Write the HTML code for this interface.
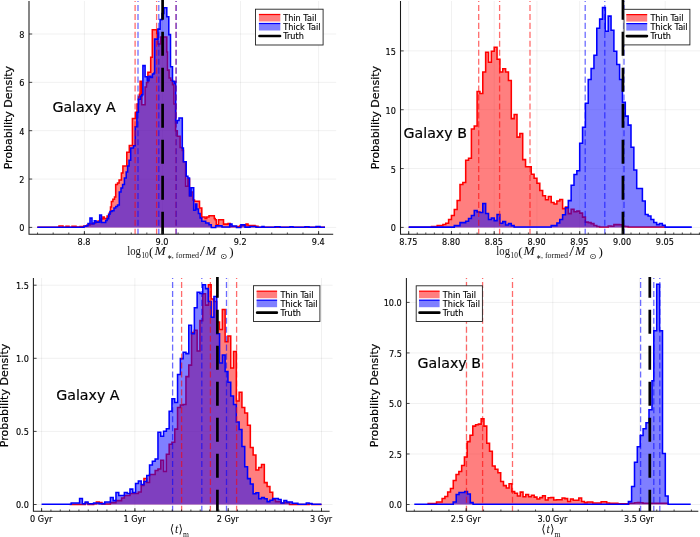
<!DOCTYPE html>
<html><head><meta charset="utf-8"><title>Posterior histograms</title>
<style>
html,body{margin:0;padding:0;background:#fff;}
body{width:700px;height:537px;overflow:hidden;}
svg{display:block;}
.tk{font-family:"DejaVu Sans", "Liberation Sans", sans-serif;font-size:8.15px;fill:#000;stroke:#000;stroke-width:0.12px;}
.lg{font-family:"DejaVu Sans", "Liberation Sans", sans-serif;font-size:8.15px;fill:#000;stroke:#000;stroke-width:0.12px;}
.gd{font-family:"DejaVu Sans", "Liberation Sans", sans-serif;font-size:11px;fill:#000;stroke:#000;stroke-width:0.2px;}
.an{font-family:"DejaVu Sans", "Liberation Sans", sans-serif;font-size:14.2px;fill:#000;stroke:#000;stroke-width:0.2px;}
.mt{font-family:"Liberation Serif", "DejaVu Serif", serif;fill:#111;}
.ms{font-family:"DejaVu Sans", "Liberation Sans", sans-serif;fill:#111;}
</style></head><body>
<svg width="700" height="537" viewBox="0 0 700 537">
<rect width="700" height="537" fill="#fff"/>
<defs>
<clipPath id="c1"><rect x="29" y="0" width="307.2" height="234.2"/></clipPath>
<clipPath id="c2"><rect x="400.5" y="0" width="302.5" height="234.2"/></clipPath>
<clipPath id="c3"><rect x="33.4" y="277" width="299.2" height="234.2"/></clipPath>
<clipPath id="c4"><rect x="406.4" y="277" width="294.9" height="234.2"/></clipPath>
</defs>
<line x1="84.4" y1="1" x2="84.4" y2="234.2" stroke="#000" stroke-opacity="0.1" stroke-width="0.6"/>
<line x1="162.47" y1="1" x2="162.47" y2="234.2" stroke="#000" stroke-opacity="0.1" stroke-width="0.6"/>
<line x1="240.53" y1="1" x2="240.53" y2="234.2" stroke="#000" stroke-opacity="0.1" stroke-width="0.6"/>
<line x1="318.6" y1="1" x2="318.6" y2="234.2" stroke="#000" stroke-opacity="0.1" stroke-width="0.6"/>
<line x1="29" y1="227.4" x2="336.2" y2="227.4" stroke="#000" stroke-opacity="0.1" stroke-width="0.6"/>
<line x1="29" y1="179.05" x2="336.2" y2="179.05" stroke="#000" stroke-opacity="0.1" stroke-width="0.6"/>
<line x1="29" y1="130.7" x2="336.2" y2="130.7" stroke="#000" stroke-opacity="0.1" stroke-width="0.6"/>
<line x1="29" y1="82.35" x2="336.2" y2="82.35" stroke="#000" stroke-opacity="0.1" stroke-width="0.6"/>
<line x1="29" y1="34" x2="336.2" y2="34" stroke="#000" stroke-opacity="0.1" stroke-width="0.6"/>
<g clip-path="url(#c1)"><path d="M37.3 227.4V227.2H59V226H63V227.2H66V226.3H69V227.2H72V226.3H76V227H80V226.5H84V226H87V225H90V224H93V223H95.7V222H98V221H100V219H102.9V217H104.3V218.6H107.1V216H109.3V212.9H110.5V207H111.4V201.4H112.9V199.3H114.5V197H115.7V184.5H117.5V183H119.1V179.9H121.4V172.9H122.9V165.9H126.8V152.2H129.3V145.5H132.4V118.4H135.5V112.3H137V104H138.5V97H139.4V94.3H140.1V81.3H141.8V104.7H145.1V86.9H146.5V82.4H147.9V72.3H150.7V57.3H152.3V29.7H156.8V33.5H157.9V44H160.7V36.9H166.8V52H167.5V70.1H169.1V77.9H170.8V80.2H172.5V84.6H173.9V103.9H175.6V130.8H177.3V136.3H180.1V147.5H182.3V150.5H183.4V161.7H185.6V186.3H187.9V179H189.5V196H191.1V192H193V200H194.5V201.2H199.5V207.9H201.8V216.9H205.1V218.5H206.8V216.9H209V215.8H214.3V218.5H215.2V219.7H216.3V224.7H218.5V219.7H223.5V224.1H228V223.4H230.3V226.4H240V225.5H246V224H248V225.5H255V226.3H258V227.2H325V227.4Z" fill="#ff0000" fill-opacity="0.5"/><path d="M37.3 227.2H59V226H63V227.2H66V226.3H69V227.2H72V226.3H76V227H80V226.5H84V226H87V225H90V224H93V223H95.7V222H98V221H100V219H102.9V217H104.3V218.6H107.1V216H109.3V212.9H110.5V207H111.4V201.4H112.9V199.3H114.5V197H115.7V184.5H117.5V183H119.1V179.9H121.4V172.9H122.9V165.9H126.8V152.2H129.3V145.5H132.4V118.4H135.5V112.3H137V104H138.5V97H139.4V94.3H140.1V81.3H141.8V104.7H145.1V86.9H146.5V82.4H147.9V72.3H150.7V57.3H152.3V29.7H156.8V33.5H157.9V44H160.7V36.9H166.8V52H167.5V70.1H169.1V77.9H170.8V80.2H172.5V84.6H173.9V103.9H175.6V130.8H177.3V136.3H180.1V147.5H182.3V150.5H183.4V161.7H185.6V186.3H187.9V179H189.5V196H191.1V192H193V200H194.5V201.2H199.5V207.9H201.8V216.9H205.1V218.5H206.8V216.9H209V215.8H214.3V218.5H215.2V219.7H216.3V224.7H218.5V219.7H223.5V224.1H228V223.4H230.3V226.4H240V225.5H246V224H248V225.5H255V226.3H258V227.2H325" fill="none" stroke="#ff0000" stroke-width="1.55" stroke-linejoin="miter"/></g>
<g clip-path="url(#c1)"><path d="M37.3 227.4V227.2H84V226.3H86V225.7H88V223.6H90V218.1H92V223.6H94.3V220.7H96V222.1H99.7V215H101.5V222.4H105.7V220.5H107.1V218.6H108.6V214.3H110V211.4H112V210.7H114V208H115.7V206.4H117.5V205H119.3V192H121V188H122.6V184.5H124.4V178H126.2V172H127.6V166H129.05V160.3H130.7V148H133.5V145.8H135.2V126.8H136.9V112.2H138.4V99.2H140.3V96H141.8V94.7H142.9V65.6H145.1V76.8H147.3V80.7H149V76.3H150.7V77.4H152.4V74H154V72.9H154.6V39.1H157.9V29.1H160.1V19.6H162V13.5H163.9V7.8H166.8V16.8H168.8V34.6H170.5V66.8H172.5V81.3H174.2V83.5H175.6V81.5H175.7V122.9H177.3V120.5H179V117.9H182.3V148.1H183.4V161.7H186.2V176.3H187.9V177.9H189.5V195.6H191.1V187.8H193.7V210.2H195.6V204H196.8V209H198.4V213.5H200.1V218H201.8V221.3H205.7V223H209V224.7H211.3V227.4H215.7V225.8H222V227H229.7V224.1H232V226H236.5V227.5H240.9V224.7H245V227.1H250V226.5H256V227.2H262V226.6H264V227.2H275V226.8H280V227.2H290V226.8H293V227.2H305V226.8H309V227.2H316V226.6H320V227.2H325V227.4Z" fill="#0000ff" fill-opacity="0.5"/><path d="M37.3 227.2H84V226.3H86V225.7H88V223.6H90V218.1H92V223.6H94.3V220.7H96V222.1H99.7V215H101.5V222.4H105.7V220.5H107.1V218.6H108.6V214.3H110V211.4H112V210.7H114V208H115.7V206.4H117.5V205H119.3V192H121V188H122.6V184.5H124.4V178H126.2V172H127.6V166H129.05V160.3H130.7V148H133.5V145.8H135.2V126.8H136.9V112.2H138.4V99.2H140.3V96H141.8V94.7H142.9V65.6H145.1V76.8H147.3V80.7H149V76.3H150.7V77.4H152.4V74H154V72.9H154.6V39.1H157.9V29.1H160.1V19.6H162V13.5H163.9V7.8H166.8V16.8H168.8V34.6H170.5V66.8H172.5V81.3H174.2V83.5H175.6V81.5H175.7V122.9H177.3V120.5H179V117.9H182.3V148.1H183.4V161.7H186.2V176.3H187.9V177.9H189.5V195.6H191.1V187.8H193.7V210.2H195.6V204H196.8V209H198.4V213.5H200.1V218H201.8V221.3H205.7V223H209V224.7H211.3V227.4H215.7V225.8H222V227H229.7V224.1H232V226H236.5V227.5H240.9V224.7H245V227.1H250V226.5H256V227.2H262V226.6H264V227.2H275V226.8H280V227.2H290V226.8H293V227.2H305V226.8H309V227.2H316V226.6H320V227.2H325" fill="none" stroke="#0000ff" stroke-width="1.55" stroke-linejoin="miter"/></g>
<g clip-path="url(#c1)">
<line x1="135.1" y1="234.8" x2="135.1" y2="1" stroke="#ff0000" stroke-opacity="0.58" stroke-width="1.3" stroke-dasharray="6.1 2.85"/>
<line x1="156.6" y1="234.8" x2="156.6" y2="1" stroke="#ff0000" stroke-opacity="0.58" stroke-width="1.3" stroke-dasharray="6.1 2.85"/>
<line x1="176" y1="234.8" x2="176" y2="1" stroke="#ff0000" stroke-opacity="0.58" stroke-width="1.3" stroke-dasharray="6.1 2.85"/>
<line x1="138" y1="234.8" x2="138" y2="1" stroke="#0000ff" stroke-opacity="0.58" stroke-width="1.3" stroke-dasharray="6.1 2.85"/>
<line x1="158.8" y1="234.8" x2="158.8" y2="1" stroke="#0000ff" stroke-opacity="0.58" stroke-width="1.3" stroke-dasharray="6.1 2.85"/>
<line x1="176.15" y1="234.8" x2="176.15" y2="1" stroke="#0000ff" stroke-opacity="0.58" stroke-width="1.3" stroke-dasharray="6.1 2.85"/>
<line x1="162.6" y1="235.7" x2="162.6" y2="0" stroke="#000" stroke-width="2.7" stroke-dasharray="24 12"/>
</g>
<path d="M29 1V234.2H333.2" fill="none" stroke="#1a1a1a" stroke-width="1.05"/>
<path d="M84.4 234.2v-3.2M162.47 234.2v-3.2M240.53 234.2v-3.2M318.6 234.2v-3.2M37.56 234.2v-1.7M53.17 234.2v-1.7M68.79 234.2v-1.7M84.4 234.2v-1.7M100.01 234.2v-1.7M115.62 234.2v-1.7M131.24 234.2v-1.7M146.85 234.2v-1.7M162.46 234.2v-1.7M178.08 234.2v-1.7M193.69 234.2v-1.7M209.3 234.2v-1.7M224.92 234.2v-1.7M240.53 234.2v-1.7M256.14 234.2v-1.7M271.75 234.2v-1.7M287.37 234.2v-1.7M302.98 234.2v-1.7M318.59 234.2v-1.7M29 227.4h3.2M29 179.05h3.2M29 130.7h3.2M29 82.35h3.2M29 34h3.2" fill="none" stroke="#1a1a1a" stroke-width="0.8"/>
<text x="84" y="244.9" text-anchor="middle" class="tk">8.8</text>
<text x="162.07" y="244.9" text-anchor="middle" class="tk">9.0</text>
<text x="240.13" y="244.9" text-anchor="middle" class="tk">9.2</text>
<text x="318.2" y="244.9" text-anchor="middle" class="tk">9.4</text>
<text x="24.4" y="231.35" text-anchor="end" class="tk">0</text>
<text x="24.4" y="183" text-anchor="end" class="tk">2</text>
<text x="24.4" y="134.65" text-anchor="end" class="tk">4</text>
<text x="24.4" y="86.3" text-anchor="end" class="tk">6</text>
<text x="24.4" y="37.95" text-anchor="end" class="tk">8</text>
<text transform="translate(11.8 117.6) rotate(-90)" text-anchor="middle" class="gd">Probability Density</text>
<rect x="255.5" y="9.2" width="67.6" height="35.8" fill="#fff" stroke="#222" stroke-width="0.9"/>
<rect x="258.9" y="14.5" width="21.4" height="7.0" fill="#ff0000" fill-opacity="0.5"/>
<line x1="258.9" y1="14.5" x2="280.3" y2="14.5" stroke="#ff0000" stroke-width="1.25"/>
<rect x="258.9" y="23.5" width="21.4" height="7.0" fill="#0000ff" fill-opacity="0.5"/>
<line x1="258.9" y1="23.5" x2="280.3" y2="23.5" stroke="#0000ff" stroke-width="1.25"/>
<line x1="259.5" y1="36" x2="280" y2="36" stroke="#000" stroke-width="2.7" stroke-linecap="round"/>
<text x="283.2" y="20.8" class="lg">Thin Tail</text>
<text x="283.2" y="29.7" class="lg">Thick Tail</text>
<text x="283.2" y="38.7" class="lg">Truth</text>
<text x="52.4" y="111.5" class="an">Galaxy A</text>
<line x1="408.7" y1="1" x2="408.7" y2="234.2" stroke="#000" stroke-opacity="0.1" stroke-width="0.6"/>
<line x1="451.45" y1="1" x2="451.45" y2="234.2" stroke="#000" stroke-opacity="0.1" stroke-width="0.6"/>
<line x1="494.2" y1="1" x2="494.2" y2="234.2" stroke="#000" stroke-opacity="0.1" stroke-width="0.6"/>
<line x1="536.95" y1="1" x2="536.95" y2="234.2" stroke="#000" stroke-opacity="0.1" stroke-width="0.6"/>
<line x1="579.7" y1="1" x2="579.7" y2="234.2" stroke="#000" stroke-opacity="0.1" stroke-width="0.6"/>
<line x1="622.45" y1="1" x2="622.45" y2="234.2" stroke="#000" stroke-opacity="0.1" stroke-width="0.6"/>
<line x1="665.2" y1="1" x2="665.2" y2="234.2" stroke="#000" stroke-opacity="0.1" stroke-width="0.6"/>
<line x1="400.5" y1="227.4" x2="703" y2="227.4" stroke="#000" stroke-opacity="0.1" stroke-width="0.6"/>
<line x1="400.5" y1="168.57" x2="703" y2="168.57" stroke="#000" stroke-opacity="0.1" stroke-width="0.6"/>
<line x1="400.5" y1="109.73" x2="703" y2="109.73" stroke="#000" stroke-opacity="0.1" stroke-width="0.6"/>
<line x1="400.5" y1="50.9" x2="703" y2="50.9" stroke="#000" stroke-opacity="0.1" stroke-width="0.6"/>
<g clip-path="url(#c2)"><path d="M408.7 227.4V227.2H411.55H414.4H417.25H420.1H422.95H425.8H428.65H431.5V226.6H434.35H437.2V225.6H440.05H442.9V224.4H445.75V223.2H448.6V219.5H451.45V215.5H454.3V209.5H457.15V200.4H460V184.5H462.85V182.5H465.7V160.2H468.55V158.2H471.4V129H474.25V126H477.1V91.4H479.95V93.4H482.8V71.9H485.65V52.2H488.5V62.2H491.35V51.2H494.2V47.2H497.05V59.2H499.9V71.9H502.75V68.7H505.6V71.9H508.45V80.4H511.3V118.6H514.15V114.5H517V137.1H519.85V133.4H522.7V159.6H525.55V166.8H528.4H531.25V174.3H534.1V178.3H536.95V183.3H539.8V190.4H542.65V195.8H545.5V199.8H548.35V196.4H551.2V202.4H554.05V203.9H556.9V201H559.75V199.4H562.6V208.6H565.45V207.1H568.3V213.6H571.15V209.3H574V211.7H576.85V211.1H579.7V213.1H582.55V217.1H585.4V222.1H588.25V222.6H591.1V223.6H593.95V225.4H596.8V226.4H599.65V226.9H602.5H605.35H608.2V226H611.05V226.2H613.9V224.6H616.75H619.6V224.8H622.45V226.3H625.3V226.4H628.15V226.9H631H633.85H636.7H639.55H642.4H645.25H648.1H650.95H653.8H656.65H659.5H662.35H665.2V227.4Z" fill="#ff0000" fill-opacity="0.5"/><path d="M408.7 227.2H411.55H414.4H417.25H420.1H422.95H425.8H428.65H431.5V226.6H434.35H437.2V225.6H440.05H442.9V224.4H445.75V223.2H448.6V219.5H451.45V215.5H454.3V209.5H457.15V200.4H460V184.5H462.85V182.5H465.7V160.2H468.55V158.2H471.4V129H474.25V126H477.1V91.4H479.95V93.4H482.8V71.9H485.65V52.2H488.5V62.2H491.35V51.2H494.2V47.2H497.05V59.2H499.9V71.9H502.75V68.7H505.6V71.9H508.45V80.4H511.3V118.6H514.15V114.5H517V137.1H519.85V133.4H522.7V159.6H525.55V166.8H528.4H531.25V174.3H534.1V178.3H536.95V183.3H539.8V190.4H542.65V195.8H545.5V199.8H548.35V196.4H551.2V202.4H554.05V203.9H556.9V201H559.75V199.4H562.6V208.6H565.45V207.1H568.3V213.6H571.15V209.3H574V211.7H576.85V211.1H579.7V213.1H582.55V217.1H585.4V222.1H588.25V222.6H591.1V223.6H593.95V225.4H596.8V226.4H599.65V226.9H602.5H605.35H608.2V226H611.05V226.2H613.9V224.6H616.75H619.6V224.8H622.45V226.3H625.3V226.4H628.15V226.9H631H633.85H636.7H639.55H642.4H645.25H648.1H650.95H653.8H656.65H659.5H662.35H665.2" fill="none" stroke="#ff0000" stroke-width="1.55" stroke-linejoin="miter"/></g>
<g clip-path="url(#c2)"><path d="M408.7 227.4V227.1H411.55H414.4H417.25H420.1H422.95H425.8H428.65H431.5H434.35H437.2H440.05H442.9H445.75H448.6H451.45H454.3V225.6H457.15H460V222.6H462.85H465.7V221.2H468.55V218.5H471.4V215.5H474.25V210.5H477.1V211.9H479.95V212.5H482.8V203.5H485.65V213.5H488.5V219.5H491.35V217.9H494.2V220.6H497.05V214.5H499.9V223.2H502.75V221.6H505.6V225H508.45V223.6H511.3V225.6H514.15V226.9H517H519.85H522.7H525.55H528.4H531.25H534.1H536.95H539.8H542.65H545.5H548.35H551.2V225.6H554.05H556.9V223H559.75V219.4H562.6V214.8H565.45V207.7H568.3V200.6H571.15V185.3H574V174.4H576.85V170.8H579.7V143.3H582.55V127.2H585.4V103.3H588.25V79.5H591.1V68.4H593.95V55.3H596.8V28.2H599.65V19.1H602.5V7.6H605.35V31.2H608.2V16.1H611.05V30.2H613.9V51.3H616.75V64.4H619.6V79.5H622.45V102.3H625.3V116.1H628.15V125.1H631V147.3H633.85V170H636.7V188.5H639.55H642.4V201H645.25V214.5H648.1V216H650.95V219.5H653.8V222.4H656.65V224.6H659.5V223.4H662.35V225.3H665.2V227.1H668.05H670.9H673.75H676.6H679.45H682.3H685.15H688H690.85H691.8V227.4Z" fill="#0000ff" fill-opacity="0.5"/><path d="M408.7 227.1H411.55H414.4H417.25H420.1H422.95H425.8H428.65H431.5H434.35H437.2H440.05H442.9H445.75H448.6H451.45H454.3V225.6H457.15H460V222.6H462.85H465.7V221.2H468.55V218.5H471.4V215.5H474.25V210.5H477.1V211.9H479.95V212.5H482.8V203.5H485.65V213.5H488.5V219.5H491.35V217.9H494.2V220.6H497.05V214.5H499.9V223.2H502.75V221.6H505.6V225H508.45V223.6H511.3V225.6H514.15V226.9H517H519.85H522.7H525.55H528.4H531.25H534.1H536.95H539.8H542.65H545.5H548.35H551.2V225.6H554.05H556.9V223H559.75V219.4H562.6V214.8H565.45V207.7H568.3V200.6H571.15V185.3H574V174.4H576.85V170.8H579.7V143.3H582.55V127.2H585.4V103.3H588.25V79.5H591.1V68.4H593.95V55.3H596.8V28.2H599.65V19.1H602.5V7.6H605.35V31.2H608.2V16.1H611.05V30.2H613.9V51.3H616.75V64.4H619.6V79.5H622.45V102.3H625.3V116.1H628.15V125.1H631V147.3H633.85V170H636.7V188.5H639.55H642.4V201H645.25V214.5H648.1V216H650.95V219.5H653.8V222.4H656.65V224.6H659.5V223.4H662.35V225.3H665.2V227.1H668.05H670.9H673.75H676.6H679.45H682.3H685.15H688H690.85H691.8" fill="none" stroke="#0000ff" stroke-width="1.55" stroke-linejoin="miter"/></g>
<g clip-path="url(#c2)">
<line x1="478.7" y1="234.8" x2="478.7" y2="1" stroke="#ff0000" stroke-opacity="0.58" stroke-width="1.3" stroke-dasharray="6.1 2.85"/>
<line x1="499.6" y1="234.8" x2="499.6" y2="1" stroke="#ff0000" stroke-opacity="0.58" stroke-width="1.3" stroke-dasharray="6.1 2.85"/>
<line x1="530" y1="234.8" x2="530" y2="1" stroke="#ff0000" stroke-opacity="0.58" stroke-width="1.3" stroke-dasharray="6.1 2.85"/>
<line x1="585.2" y1="234.8" x2="585.2" y2="1" stroke="#0000ff" stroke-opacity="0.58" stroke-width="1.3" stroke-dasharray="6.1 2.85"/>
<line x1="604.8" y1="234.8" x2="604.8" y2="1" stroke="#0000ff" stroke-opacity="0.58" stroke-width="1.3" stroke-dasharray="6.1 2.85"/>
<line x1="624" y1="234.8" x2="624" y2="1" stroke="#0000ff" stroke-opacity="0.58" stroke-width="1.3" stroke-dasharray="6.1 2.85"/>
<line x1="622.95" y1="235.7" x2="622.95" y2="0" stroke="#000" stroke-width="2.7" stroke-dasharray="24 12"/>
</g>
<path d="M400.5 1V234.2H700" fill="none" stroke="#1a1a1a" stroke-width="1.05"/>
<path d="M408.7 234.2v-3.2M451.45 234.2v-3.2M494.2 234.2v-3.2M536.95 234.2v-3.2M579.7 234.2v-3.2M622.45 234.2v-3.2M665.2 234.2v-3.2M408.7 234.2v-1.7M417.25 234.2v-1.7M425.8 234.2v-1.7M434.35 234.2v-1.7M442.9 234.2v-1.7M451.45 234.2v-1.7M460 234.2v-1.7M468.55 234.2v-1.7M477.1 234.2v-1.7M485.65 234.2v-1.7M494.2 234.2v-1.7M502.75 234.2v-1.7M511.3 234.2v-1.7M519.85 234.2v-1.7M528.4 234.2v-1.7M536.95 234.2v-1.7M545.5 234.2v-1.7M554.05 234.2v-1.7M562.6 234.2v-1.7M571.15 234.2v-1.7M579.7 234.2v-1.7M588.25 234.2v-1.7M596.8 234.2v-1.7M605.35 234.2v-1.7M613.9 234.2v-1.7M622.45 234.2v-1.7M631 234.2v-1.7M639.55 234.2v-1.7M648.1 234.2v-1.7M656.65 234.2v-1.7M665.2 234.2v-1.7M673.75 234.2v-1.7M682.3 234.2v-1.7M690.85 234.2v-1.7M699.4 234.2v-1.7M400.5 227.4h3.2M400.5 168.57h3.2M400.5 109.73h3.2M400.5 50.9h3.2" fill="none" stroke="#1a1a1a" stroke-width="0.8"/>
<text x="408.3" y="244.9" text-anchor="middle" class="tk">8.75</text>
<text x="451.05" y="244.9" text-anchor="middle" class="tk">8.80</text>
<text x="493.8" y="244.9" text-anchor="middle" class="tk">8.85</text>
<text x="536.55" y="244.9" text-anchor="middle" class="tk">8.90</text>
<text x="579.3" y="244.9" text-anchor="middle" class="tk">8.95</text>
<text x="622.05" y="244.9" text-anchor="middle" class="tk">9.00</text>
<text x="664.8" y="244.9" text-anchor="middle" class="tk">9.05</text>
<text x="395.9" y="231.35" text-anchor="end" class="tk">0</text>
<text x="395.9" y="172.52" text-anchor="end" class="tk">5</text>
<text x="395.9" y="113.68" text-anchor="end" class="tk">10</text>
<text x="395.9" y="54.85" text-anchor="end" class="tk">15</text>
<text transform="translate(379.2 117.6) rotate(-90)" text-anchor="middle" class="gd">Probability Density</text>
<rect x="624" y="9.3" width="65.9" height="35.6" fill="#fff" stroke="#222" stroke-width="0.9"/>
<rect x="626.3" y="14.6" width="20.9" height="7.0" fill="#ff0000" fill-opacity="0.5"/>
<line x1="626.3" y1="14.6" x2="647.2" y2="14.6" stroke="#ff0000" stroke-width="1.25"/>
<rect x="626.3" y="23.6" width="20.9" height="7.0" fill="#0000ff" fill-opacity="0.5"/>
<line x1="626.3" y1="23.6" x2="647.2" y2="23.6" stroke="#0000ff" stroke-width="1.25"/>
<line x1="626.9" y1="36.1" x2="646.9" y2="36.1" stroke="#000" stroke-width="2.7" stroke-linecap="round"/>
<text x="650.4" y="20.8" class="lg">Thin Tail</text>
<text x="650.4" y="29.7" class="lg">Thick Tail</text>
<text x="650.4" y="38.7" class="lg">Truth</text>
<text x="403.5" y="138.1" class="an">Galaxy B</text>
<line x1="41.6" y1="278" x2="41.6" y2="511.2" stroke="#000" stroke-opacity="0.1" stroke-width="0.6"/>
<line x1="134.9" y1="278" x2="134.9" y2="511.2" stroke="#000" stroke-opacity="0.1" stroke-width="0.6"/>
<line x1="228.2" y1="278" x2="228.2" y2="511.2" stroke="#000" stroke-opacity="0.1" stroke-width="0.6"/>
<line x1="321.5" y1="278" x2="321.5" y2="511.2" stroke="#000" stroke-opacity="0.1" stroke-width="0.6"/>
<line x1="33.4" y1="504.5" x2="332.6" y2="504.5" stroke="#000" stroke-opacity="0.1" stroke-width="0.6"/>
<line x1="33.4" y1="431.4" x2="332.6" y2="431.4" stroke="#000" stroke-opacity="0.1" stroke-width="0.6"/>
<line x1="33.4" y1="358.3" x2="332.6" y2="358.3" stroke="#000" stroke-opacity="0.1" stroke-width="0.6"/>
<line x1="33.4" y1="285.2" x2="332.6" y2="285.2" stroke="#000" stroke-opacity="0.1" stroke-width="0.6"/>
<g clip-path="url(#c3)"><path d="M69.6 504.5V504.4H71.19H73.99H76.79H79.59H82.39H85.19V502.8H87.98V504.4H90.78H93.58V503.8H96.38V501.9H99.18V502.6H101.98V504H104.78H107.58H110.38V502.6H113.17H115.97V500.6H118.77H121.57V497.9H124.37V495.5H127.17H129.97V493.5H132.77H135.57H138.37V491.9H141.17V485.5H143.96V478.4H146.76V482.5H149.56V474.4H152.36H155.16V470.4H157.96V469H160.76V460.3H163.56V471.4H166.36V454.3H169.16V444.2H171.95V442.2H174.75V429.1H177.55V407.5H180.35V405H183.15V404.5H185.95V376.6H188.75V365.1H191.55V332.4H194.35V330.2H197.14V351H199.94V320.6H202.74V293.7H205.54V305.1H208.34V284.8H211.14V299H213.94V301.5H216.74V322H219.54V329.4H222.34V309.4H225.13V341.7H227.93V336H230.73V368H233.53V351.5H236.33V401H239.13V392.3H241.93V407.4H244.73V413H247.53V425.3H250.33V447.4H253.12V454.9H255.92V469.9H258.72V467.5H261.52V464.4H264.32V482.6H267.12V486.5H269.92V492.3H272.72V499.5H275.52V501.6H278.32H281.12V503H283.91V502.6H286.71H289.51V504.4H292.31H295.11H297.91H300.71H303.51H306.31H309.1V503.8H311.9V504.4H314.7H317.5H320.3H321.5V504.5Z" fill="#ff0000" fill-opacity="0.5"/><path d="M69.6 504.4H71.19H73.99H76.79H79.59H82.39H85.19V502.8H87.98V504.4H90.78H93.58V503.8H96.38V501.9H99.18V502.6H101.98V504H104.78H107.58H110.38V502.6H113.17H115.97V500.6H118.77H121.57V497.9H124.37V495.5H127.17H129.97V493.5H132.77H135.57H138.37V491.9H141.17V485.5H143.96V478.4H146.76V482.5H149.56V474.4H152.36H155.16V470.4H157.96V469H160.76V460.3H163.56V471.4H166.36V454.3H169.16V444.2H171.95V442.2H174.75V429.1H177.55V407.5H180.35V405H183.15V404.5H185.95V376.6H188.75V365.1H191.55V332.4H194.35V330.2H197.14V351H199.94V320.6H202.74V293.7H205.54V305.1H208.34V284.8H211.14V299H213.94V301.5H216.74V322H219.54V329.4H222.34V309.4H225.13V341.7H227.93V336H230.73V368H233.53V351.5H236.33V401H239.13V392.3H241.93V407.4H244.73V413H247.53V425.3H250.33V447.4H253.12V454.9H255.92V469.9H258.72V467.5H261.52V464.4H264.32V482.6H267.12V486.5H269.92V492.3H272.72V499.5H275.52V501.6H278.32H281.12V503H283.91V502.6H286.71H289.51V504.4H292.31H295.11H297.91H300.71H303.51H306.31H309.1V503.8H311.9V504.4H314.7H317.5H320.3H321.5" fill="none" stroke="#ff0000" stroke-width="1.55" stroke-linejoin="miter"/></g>
<g clip-path="url(#c3)"><path d="M41.6 504.5V504.3H46H48.8H51.6H54.4H57.2H59.99H62.79H65.59H68.39H71.19V503H73.99H76.79H79.59V498.5H82.39V503.8H85.19V501.9H87.98V503.8H90.78H93.58V503H96.38H99.18V503.6H101.98H104.78V502H107.58H110.38V497.5H113.17V500.6H115.97V492.5H118.77V495.5H121.57H124.37V492.5H127.17V493.5H129.97V489.1H132.77V492.5H135.57V483.5H138.37V481H141.17V484.5H143.96V481.4H146.76V475.4H149.56V465H152.36V461.3H155.16V458.9H157.96V432.2H160.76V436.2H163.56V431.2H166.36V428.7H169.16V411.3H171.95V398.8H174.75V402.4H177.55V374.4H180.35V358.6H183.15V352.2H185.95V353.6H188.75V325.2H191.55V333.8H194.35V307.7H197.14V292.2H199.94V293.5H202.74V284.8H205.54V288.6H208.34V301.5H211.14V317.3H213.94V296.5H216.74V333.8H219.54V362.9H222.34V355H225.13V371.5H227.93V382.3H230.73V395.9H233.53V404.5H236.33V422H239.13V429.5H241.93V446.5H244.73V466.7H247.53V478.6H250.33V484H253.12V493.7H255.92V492.7H258.72V498.7H261.52V497.6H264.32V498.7H267.12V501.6H269.92V500.2H272.72V498.5H275.52H278.32V499.5H281.12V503H283.91V500.6H286.71V501.9H289.51H292.31V503.3H295.11H297.91V504.2H300.71H303.51H306.31V503H309.1V503.5H311.9V504.2H314.7H317.5H320.3H321.5V504.5Z" fill="#0000ff" fill-opacity="0.5"/><path d="M41.6 504.3H46H48.8H51.6H54.4H57.2H59.99H62.79H65.59H68.39H71.19V503H73.99H76.79H79.59V498.5H82.39V503.8H85.19V501.9H87.98V503.8H90.78H93.58V503H96.38H99.18V503.6H101.98H104.78V502H107.58H110.38V497.5H113.17V500.6H115.97V492.5H118.77V495.5H121.57H124.37V492.5H127.17V493.5H129.97V489.1H132.77V492.5H135.57V483.5H138.37V481H141.17V484.5H143.96V481.4H146.76V475.4H149.56V465H152.36V461.3H155.16V458.9H157.96V432.2H160.76V436.2H163.56V431.2H166.36V428.7H169.16V411.3H171.95V398.8H174.75V402.4H177.55V374.4H180.35V358.6H183.15V352.2H185.95V353.6H188.75V325.2H191.55V333.8H194.35V307.7H197.14V292.2H199.94V293.5H202.74V284.8H205.54V288.6H208.34V301.5H211.14V317.3H213.94V296.5H216.74V333.8H219.54V362.9H222.34V355H225.13V371.5H227.93V382.3H230.73V395.9H233.53V404.5H236.33V422H239.13V429.5H241.93V446.5H244.73V466.7H247.53V478.6H250.33V484H253.12V493.7H255.92V492.7H258.72V498.7H261.52V497.6H264.32V498.7H267.12V501.6H269.92V500.2H272.72V498.5H275.52H278.32V499.5H281.12V503H283.91V500.6H286.71V501.9H289.51H292.31V503.3H295.11H297.91V504.2H300.71H303.51H306.31V503H309.1V503.5H311.9V504.2H314.7H317.5H320.3H321.5" fill="none" stroke="#0000ff" stroke-width="1.55" stroke-linejoin="miter"/></g>
<g clip-path="url(#c3)">
<line x1="181.6" y1="511.8" x2="181.6" y2="278" stroke="#ff0000" stroke-opacity="0.58" stroke-width="1.3" stroke-dasharray="6.1 2.85"/>
<line x1="210.4" y1="511.8" x2="210.4" y2="278" stroke="#ff0000" stroke-opacity="0.58" stroke-width="1.3" stroke-dasharray="6.1 2.85"/>
<line x1="236.6" y1="511.8" x2="236.6" y2="278" stroke="#ff0000" stroke-opacity="0.58" stroke-width="1.3" stroke-dasharray="6.1 2.85"/>
<line x1="172.6" y1="511.8" x2="172.6" y2="278" stroke="#0000ff" stroke-opacity="0.58" stroke-width="1.3" stroke-dasharray="6.1 2.85"/>
<line x1="201.8" y1="511.8" x2="201.8" y2="278" stroke="#0000ff" stroke-opacity="0.58" stroke-width="1.3" stroke-dasharray="6.1 2.85"/>
<line x1="226.5" y1="511.8" x2="226.5" y2="278" stroke="#0000ff" stroke-opacity="0.58" stroke-width="1.3" stroke-dasharray="6.1 2.85"/>
<line x1="217.4" y1="513.7" x2="217.4" y2="277" stroke="#000" stroke-width="2.7" stroke-dasharray="24 12"/>
</g>
<path d="M33.4 278V511.2H329.6" fill="none" stroke="#1a1a1a" stroke-width="1.05"/>
<path d="M41.6 511.2v-3.2M134.9 511.2v-3.2M228.2 511.2v-3.2M321.5 511.2v-3.2M41.6 511.2v-1.7M50.93 511.2v-1.7M60.26 511.2v-1.7M69.59 511.2v-1.7M78.92 511.2v-1.7M88.25 511.2v-1.7M97.58 511.2v-1.7M106.91 511.2v-1.7M116.24 511.2v-1.7M125.57 511.2v-1.7M134.9 511.2v-1.7M144.23 511.2v-1.7M153.56 511.2v-1.7M162.89 511.2v-1.7M172.22 511.2v-1.7M181.55 511.2v-1.7M190.88 511.2v-1.7M200.21 511.2v-1.7M209.54 511.2v-1.7M218.87 511.2v-1.7M228.2 511.2v-1.7M237.53 511.2v-1.7M246.86 511.2v-1.7M256.19 511.2v-1.7M265.52 511.2v-1.7M274.85 511.2v-1.7M284.18 511.2v-1.7M293.51 511.2v-1.7M302.84 511.2v-1.7M312.17 511.2v-1.7M321.5 511.2v-1.7M33.4 504.5h3.2M33.4 431.4h3.2M33.4 358.3h3.2M33.4 285.2h3.2" fill="none" stroke="#1a1a1a" stroke-width="0.8"/>
<text x="41.2" y="521.9" text-anchor="middle" class="tk">0 Gyr</text>
<text x="134.5" y="521.9" text-anchor="middle" class="tk">1 Gyr</text>
<text x="227.8" y="521.9" text-anchor="middle" class="tk">2 Gyr</text>
<text x="321.1" y="521.9" text-anchor="middle" class="tk">3 Gyr</text>
<text x="28.8" y="508.45" text-anchor="end" class="tk">0.0</text>
<text x="28.8" y="435.35" text-anchor="end" class="tk">0.5</text>
<text x="28.8" y="362.25" text-anchor="end" class="tk">1.0</text>
<text x="28.8" y="289.15" text-anchor="end" class="tk">1.5</text>
<text transform="translate(8.4 395.5) rotate(-90)" text-anchor="middle" class="gd">Probability Density</text>
<rect x="253.5" y="285.7" width="66.4" height="35.8" fill="#fff" stroke="#222" stroke-width="0.9"/>
<rect x="256.6" y="291.2" width="20.5" height="7.0" fill="#ff0000" fill-opacity="0.5"/>
<line x1="256.6" y1="291.2" x2="277.1" y2="291.2" stroke="#ff0000" stroke-width="1.25"/>
<rect x="256.6" y="300.2" width="20.5" height="7.0" fill="#0000ff" fill-opacity="0.5"/>
<line x1="256.6" y1="300.2" x2="277.1" y2="300.2" stroke="#0000ff" stroke-width="1.25"/>
<line x1="257.2" y1="312.7" x2="276.8" y2="312.7" stroke="#000" stroke-width="2.7" stroke-linecap="round"/>
<text x="280.4" y="297.9" class="lg">Thin Tail</text>
<text x="280.4" y="306.8" class="lg">Thick Tail</text>
<text x="280.4" y="315.8" class="lg">Truth</text>
<text x="56.2" y="400.1" class="an">Galaxy A</text>
<line x1="466.2" y1="278" x2="466.2" y2="511.2" stroke="#000" stroke-opacity="0.1" stroke-width="0.6"/>
<line x1="552.8" y1="278" x2="552.8" y2="511.2" stroke="#000" stroke-opacity="0.1" stroke-width="0.6"/>
<line x1="639.4" y1="278" x2="639.4" y2="511.2" stroke="#000" stroke-opacity="0.1" stroke-width="0.6"/>
<line x1="406.4" y1="504.5" x2="701.3" y2="504.5" stroke="#000" stroke-opacity="0.1" stroke-width="0.6"/>
<line x1="406.4" y1="453.97" x2="701.3" y2="453.97" stroke="#000" stroke-opacity="0.1" stroke-width="0.6"/>
<line x1="406.4" y1="403.45" x2="701.3" y2="403.45" stroke="#000" stroke-opacity="0.1" stroke-width="0.6"/>
<line x1="406.4" y1="352.93" x2="701.3" y2="352.93" stroke="#000" stroke-opacity="0.1" stroke-width="0.6"/>
<line x1="406.4" y1="302.4" x2="701.3" y2="302.4" stroke="#000" stroke-opacity="0.1" stroke-width="0.6"/>
<g clip-path="url(#c4)"><path d="M428 504.5V504.3H428.16V503.6H430.95H433.74H436.53V502H439.32H442.11V498.5H444.9V496.5H447.69V491.9H450.48V488.5H453.27V480.4H456.06V474.4H458.85V471.4H461.64V465.4H464.43V456.9H467.22V441.6H470.01V435.2H472.8V426.1H475.59V424.7H478.38V424.1H481.17V418.7H483.96V426.1H486.75V443.2H489.54V451.3H492.33V465.9H495.12V469.3H497.91V472.7H500.7V481.5H503.49V485.6H506.28V487.9H509.07V483.8H511.86V491.6H514.65V493.3H517.44V495.9H520.23V492.1H523.02V496.7H525.81V494.4H528.6V496.7H531.39V495.2H534.18V497.1H536.97V499H539.76V497.6H542.55V495.8H545.34V499.9H548.13V497.7H550.92V497.5H553.71V500H556.5V499.7H559.29H562.08V497.9H564.87V498.6H567.66V501.4H570.45V498.9H573.24V500.3H576.03H578.82V497.9H581.61V501.4H584.4V502.6H587.19V501.9H589.98H592.77V502.9H595.56H598.35H601.14V501.7H603.93H606.72V502.9H609.51V503.3H612.3H615.09H617.88V503.7H620.67H623.46H626.25H629.04V503.2H631.83H634.62V502.8H637.41V502.6H640.2V502.8H642.99V503.2H645.78H648.57H651.36H654.15H656.94H659.73H662.52H665.31H668.1H669V504.5Z" fill="#ff0000" fill-opacity="0.5"/><path d="M428 504.3H428.16V503.6H430.95H433.74H436.53V502H439.32H442.11V498.5H444.9V496.5H447.69V491.9H450.48V488.5H453.27V480.4H456.06V474.4H458.85V471.4H461.64V465.4H464.43V456.9H467.22V441.6H470.01V435.2H472.8V426.1H475.59V424.7H478.38V424.1H481.17V418.7H483.96V426.1H486.75V443.2H489.54V451.3H492.33V465.9H495.12V469.3H497.91V472.7H500.7V481.5H503.49V485.6H506.28V487.9H509.07V483.8H511.86V491.6H514.65V493.3H517.44V495.9H520.23V492.1H523.02V496.7H525.81V494.4H528.6V496.7H531.39V495.2H534.18V497.1H536.97V499H539.76V497.6H542.55V495.8H545.34V499.9H548.13V497.7H550.92V497.5H553.71V500H556.5V499.7H559.29H562.08V497.9H564.87V498.6H567.66V501.4H570.45V498.9H573.24V500.3H576.03H578.82V497.9H581.61V501.4H584.4V502.6H587.19V501.9H589.98H592.77V502.9H595.56H598.35H601.14V501.7H603.93H606.72V502.9H609.51V503.3H612.3H615.09H617.88V503.7H620.67H623.46H626.25H629.04V503.2H631.83H634.62V502.8H637.41V502.6H640.2V502.8H642.99V503.2H645.78H648.57H651.36H654.15H656.94H659.73H662.52H665.31H668.1H669" fill="none" stroke="#ff0000" stroke-width="1.55" stroke-linejoin="miter"/></g>
<g clip-path="url(#c4)"><path d="M414.3 504.5V504.3H453.2V502H456.2V494.5H459V492.5H464.7V491.5H467.5V493.9H470.3V502.6H473.1V504.2H628.4V501.6H631.6V486.5H634.5V462.3H637.3V446.7H640.2V435.5H643.1V428.8H646V422.8H649V409.8H652V380.8H653.8V330.7H656.7V284.3H659.6V330.7H662.5V453.4H665.3V495.9H668.1V504.2H690.7V504.5Z" fill="#0000ff" fill-opacity="0.5"/><path d="M414.3 504.3H453.2V502H456.2V494.5H459V492.5H464.7V491.5H467.5V493.9H470.3V502.6H473.1V504.2H628.4V501.6H631.6V486.5H634.5V462.3H637.3V446.7H640.2V435.5H643.1V428.8H646V422.8H649V409.8H652V380.8H653.8V330.7H656.7V284.3H659.6V330.7H662.5V453.4H665.3V495.9H668.1V504.2H690.7" fill="none" stroke="#0000ff" stroke-width="1.55" stroke-linejoin="miter"/></g>
<g clip-path="url(#c4)">
<line x1="466.5" y1="511.8" x2="466.5" y2="278" stroke="#ff0000" stroke-opacity="0.58" stroke-width="1.3" stroke-dasharray="6.1 2.85"/>
<line x1="482.6" y1="511.8" x2="482.6" y2="278" stroke="#ff0000" stroke-opacity="0.58" stroke-width="1.3" stroke-dasharray="6.1 2.85"/>
<line x1="512.5" y1="511.8" x2="512.5" y2="278" stroke="#ff0000" stroke-opacity="0.58" stroke-width="1.3" stroke-dasharray="6.1 2.85"/>
<line x1="640.6" y1="511.8" x2="640.6" y2="278" stroke="#0000ff" stroke-opacity="0.58" stroke-width="1.3" stroke-dasharray="6.1 2.85"/>
<line x1="653.8" y1="511.8" x2="653.8" y2="278" stroke="#0000ff" stroke-opacity="0.58" stroke-width="1.3" stroke-dasharray="6.1 2.85"/>
<line x1="659.8" y1="511.8" x2="659.8" y2="278" stroke="#0000ff" stroke-opacity="0.58" stroke-width="1.3" stroke-dasharray="6.1 2.85"/>
<line x1="649.8" y1="513.7" x2="649.8" y2="277" stroke="#000" stroke-width="2.7" stroke-dasharray="24 12"/>
</g>
<path d="M406.4 278V511.2H698.3" fill="none" stroke="#1a1a1a" stroke-width="1.05"/>
<path d="M466.2 511.2v-3.2M552.8 511.2v-3.2M639.4 511.2v-3.2M414.3 511.2v-1.7M431.62 511.2v-1.7M448.94 511.2v-1.7M466.26 511.2v-1.7M483.58 511.2v-1.7M500.9 511.2v-1.7M518.22 511.2v-1.7M535.54 511.2v-1.7M552.86 511.2v-1.7M570.18 511.2v-1.7M587.5 511.2v-1.7M604.82 511.2v-1.7M622.14 511.2v-1.7M639.46 511.2v-1.7M656.78 511.2v-1.7M674.1 511.2v-1.7M691.42 511.2v-1.7M406.4 504.5h3.2M406.4 453.97h3.2M406.4 403.45h3.2M406.4 352.93h3.2M406.4 302.4h3.2" fill="none" stroke="#1a1a1a" stroke-width="0.8"/>
<text x="465.8" y="521.9" text-anchor="middle" class="tk">2.5 Gyr</text>
<text x="552.4" y="521.9" text-anchor="middle" class="tk">3.0 Gyr</text>
<text x="639" y="521.9" text-anchor="middle" class="tk">3.5 Gyr</text>
<text x="401.8" y="508.45" text-anchor="end" class="tk">0.0</text>
<text x="401.8" y="457.92" text-anchor="end" class="tk">2.5</text>
<text x="401.8" y="407.4" text-anchor="end" class="tk">5.0</text>
<text x="401.8" y="356.88" text-anchor="end" class="tk">7.5</text>
<text x="401.8" y="306.35" text-anchor="end" class="tk">10.0</text>
<text transform="translate(378.4 395.5) rotate(-90)" text-anchor="middle" class="gd">Probability Density</text>
<rect x="416.2" y="285.8" width="66.2" height="35.7" fill="#fff" stroke="#222" stroke-width="0.9"/>
<rect x="419" y="291.2" width="20.6" height="7.0" fill="#ff0000" fill-opacity="0.5"/>
<line x1="419" y1="291.2" x2="439.6" y2="291.2" stroke="#ff0000" stroke-width="1.25"/>
<rect x="419" y="300.2" width="20.6" height="7.0" fill="#0000ff" fill-opacity="0.5"/>
<line x1="419" y1="300.2" x2="439.6" y2="300.2" stroke="#0000ff" stroke-width="1.25"/>
<line x1="419.6" y1="312.7" x2="439.3" y2="312.7" stroke="#000" stroke-width="2.7" stroke-linecap="round"/>
<text x="442.8" y="297.7" class="lg">Thin Tail</text>
<text x="442.8" y="306.6" class="lg">Thick Tail</text>
<text x="442.8" y="315.6" class="lg">Truth</text>
<text x="417.6" y="368" class="an">Galaxy B</text>
<text x="127.2" y="255" class="mt" font-size="11.8" textLength="13.7" lengthAdjust="spacingAndGlyphs">log</text>
<text x="141.4" y="258.1" class="mt" font-size="7.9" textLength="7.3" lengthAdjust="spacingAndGlyphs">10</text>
<text x="149.1" y="255.6" class="mt" font-size="13.2">(</text>
<text x="154.4" y="255" class="mt" font-size="12" font-style="italic" textLength="11.2" lengthAdjust="spacingAndGlyphs">M</text>
<text x="167" y="258.6" class="ms" font-size="6.4">∗</text>
<text x="171.8" y="258.4" class="mt" font-size="7.7" textLength="27.2" lengthAdjust="spacingAndGlyphs">, formed</text>
<text x="200.1" y="256.2" class="mt" font-size="14" textLength="4.8" lengthAdjust="spacingAndGlyphs">/</text>
<text x="205.8" y="255" class="mt" font-size="12" font-style="italic" textLength="10.4" lengthAdjust="spacingAndGlyphs">M</text>
<text x="220.1" y="259.2" class="ms" font-size="8.2">⊙</text>
<text x="229.3" y="255.6" class="mt" font-size="13.2">)</text>
<text x="496.3" y="255" class="mt" font-size="11.8" textLength="13.7" lengthAdjust="spacingAndGlyphs">log</text>
<text x="510.5" y="258.1" class="mt" font-size="7.9" textLength="7.3" lengthAdjust="spacingAndGlyphs">10</text>
<text x="518.2" y="255.6" class="mt" font-size="13.2">(</text>
<text x="523.5" y="255" class="mt" font-size="12" font-style="italic" textLength="11.2" lengthAdjust="spacingAndGlyphs">M</text>
<text x="536.1" y="258.6" class="ms" font-size="6.4">∗</text>
<text x="540.9" y="258.4" class="mt" font-size="7.7" textLength="27.2" lengthAdjust="spacingAndGlyphs">, formed</text>
<text x="569.2" y="256.2" class="mt" font-size="14" textLength="4.8" lengthAdjust="spacingAndGlyphs">/</text>
<text x="574.9" y="255" class="mt" font-size="12" font-style="italic" textLength="10.4" lengthAdjust="spacingAndGlyphs">M</text>
<text x="589.2" y="259.2" class="ms" font-size="8.2">⊙</text>
<text x="598.4" y="255.6" class="mt" font-size="13.2">)</text>
<text x="169.7" y="533.3" class="ms" font-size="11.6">⟨</text>
<text x="175.1" y="532.6" class="mt" font-size="11.6" font-style="italic">t</text>
<text x="178.6" y="533.3" class="ms" font-size="11.6">⟩</text>
<text x="183.1" y="536.5" class="mt" font-size="7.6">m</text>
<text x="541.2" y="533.3" class="ms" font-size="11.6">⟨</text>
<text x="546.6" y="532.6" class="mt" font-size="11.6" font-style="italic">t</text>
<text x="550.1" y="533.3" class="ms" font-size="11.6">⟩</text>
<text x="554.6" y="536.5" class="mt" font-size="7.6">m</text>
</svg>
</body></html>
